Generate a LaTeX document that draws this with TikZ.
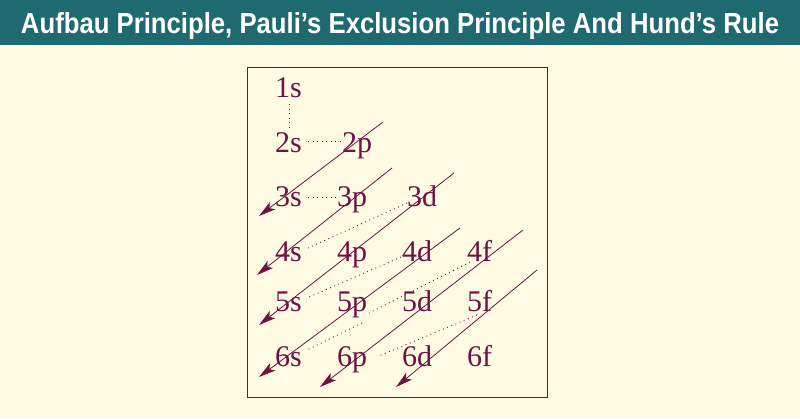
\documentclass[tikz,border=0pt]{standalone}
\usepackage{fontspec}
\setmainfont{Liberation Serif}
\newfontfamily\titlefont{Liberation Sans}
\usetikzlibrary{arrows.meta}
\definecolor{bg}{HTML}{FEFBE2}
\definecolor{band}{HTML}{1F6A70}
\definecolor{mar}{HTML}{6E1244}
\tikzset{
  orb/.style={anchor=base west, inner sep=0pt, text=mar, font=\fontsize{30}{30}\selectfont},
  arr/.style={draw=mar, line width=0.8pt, -{Stealth[length=17pt, width=9pt, inset=4pt]}},
  dots/.style={draw=mar, line width=0.9pt, dash pattern=on 0.9pt off 3.6pt},
}
\begin{document}
\begin{tikzpicture}[x=1pt, y=-1pt]
\useasboundingbox (0,0) rectangle (800,418);
\fill[bg] (0,0) rectangle (800,418);
\fill[band] (0,0) rectangle (800,45);
\node[anchor=base, inner sep=0pt, text=white] (title) at (400,33)
  {\resizebox{758pt}{\height}{\titlefont\bfseries\fontsize{29}{29}\selectfont Aufbau Principle, Pauli’s Exclusion Principle And Hund’s Rule}};
\draw[mar, line width=0.9pt] (247,67) rectangle (547,397);
% labels
\node[orb] (n1s) at (275,97) {1s};
\node[orb] (n2s) at (275,152) {2s};
\node[orb] (n2p) at (342,152) {2p};
\node[orb] (n3s) at (275,206) {3s};
\node[orb] (n3p) at (337,206) {3p};
\node[orb] (n3d) at (407,206) {3d};
\node[orb] (n4s) at (275,261) {4s};
\node[orb] (n4p) at (337,261) {4p};
\node[orb] (n4d) at (402,261) {4d};
\node[orb] (n4f) at (467,261) {4f};
\node[orb] (n5s) at (275,311) {5s};
\node[orb] (n5p) at (337,311) {5p};
\node[orb] (n5d) at (402,311) {5d};
\node[orb] (n5f) at (467,311) {5f};
\node[orb] (n6s) at (275,366) {6s};
\node[orb] (n6p) at (337,366) {6p};
\node[orb] (n6d) at (402,366) {6d};
\node[orb] (n6f) at (467,366) {6f};
% dotted connectors
\coordinate (d1a) at (289,104); \coordinate (d1b) at (289,130);
\coordinate (d2a) at (308,141); \coordinate (d2b) at (340,141);
\coordinate (d3a) at (308,197); \coordinate (d3b) at (336,197);
\coordinate (d4a) at (407,203); \coordinate (d4b) at (308,248);
\coordinate (d5a) at (401,257); \coordinate (d5b) at (309,297);
\coordinate (d6a) at (470,262); \coordinate (d6b) at (369,313);
\coordinate (d7a) at (362,323); \coordinate (d7b) at (307,350);
\coordinate (d8a) at (477,315); \coordinate (d8b) at (379,356);
\draw[dots] (d1a) -- (d1b);
\draw[dots] (d2a) -- (d2b);
\draw[dots] (d3a) -- (d3b);
\draw[dots] (d4a) -- (d4b);
\draw[dots] (d5a) -- (d5b);
\draw[dots] (d6a) -- (d6b);
\draw[dots] (d7a) -- (d7b);
\draw[dots] (d8a) -- (d8b);
% arrows
\coordinate (a1s) at (383,122); \coordinate (a1e) at (259,216);
\coordinate (a2s) at (392,168); \coordinate (a2e) at (257,275);
\coordinate (a3s) at (454,173); \coordinate (a3e) at (259,325);
\coordinate (a4s) at (460,228); \coordinate (a4e) at (259,377);
\coordinate (a5s) at (523,230); \coordinate (a5e) at (320,387);
\coordinate (a6s) at (537,270); \coordinate (a6e) at (396,387);
\draw[arr] (a1s) -- (a1e);
\draw[arr] (a2s) -- (a2e);
\draw[arr] (a3s) -- (a3e);
\draw[arr] (a4s) -- (a4e);
\draw[arr] (a5s) -- (a5e);
\draw[arr] (a6s) -- (a6e);
\end{tikzpicture}
\end{document}
